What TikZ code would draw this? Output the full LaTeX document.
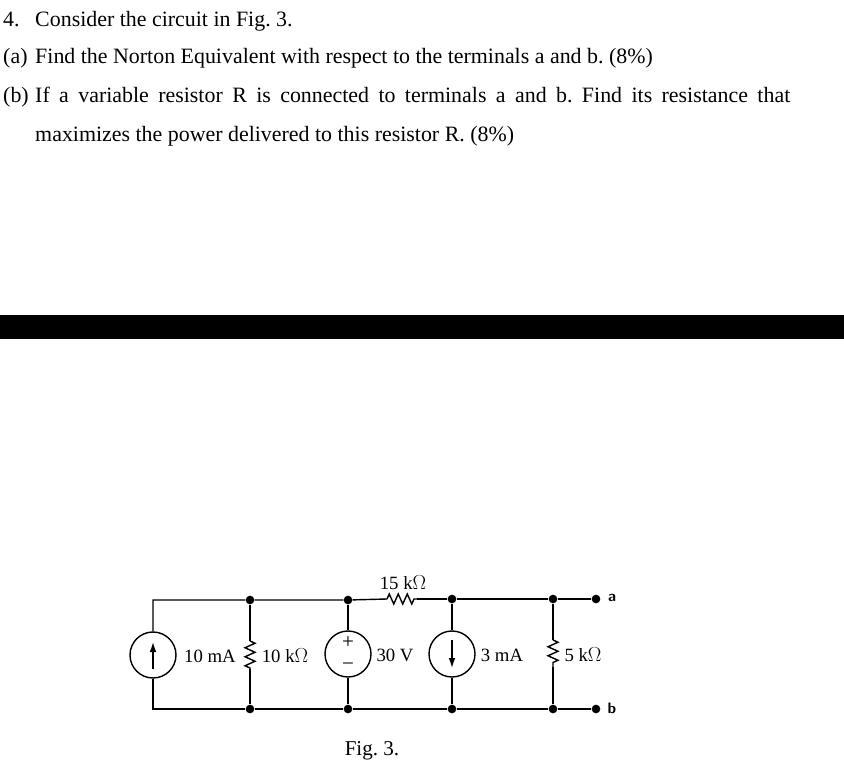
\documentclass[tikz,border=0pt]{standalone}
\usepackage{fontspec}
\setmainfont{Liberation Serif}
\usetikzlibrary{decorations.pathmorphing,arrows.meta}
\frenchspacing
\begin{document}
\begin{tikzpicture}[x=0.03cm,y=-0.03cm]
      \tikzstyle{wire}=[line width=1.2pt]
      \tikzstyle{dot}=[circle,fill=black,inner sep=0pt,minimum size=0.26cm]
      \tikzstyle{source}=[circle,draw,line width=1.2pt,fill=white,inner sep=0pt,minimum size=1.38cm]
      \tikzstyle{question}=[anchor=base west,inner sep=0pt,font=\fontsize{18.7}{22}\selectfont]
      \tikzstyle{value}=[inner sep=0pt,font=\fontsize{16}{19}\selectfont]
      \tikzstyle{terminal}=[inner sep=0pt,font=\sffamily\bfseries\fontsize{13}{15}\selectfont]
      \tikzstyle{resistor}=[wire,decoration={zigzag,segment length=0.27cm,amplitude=0.15cm},decorate]
      \tikzstyle{flow}=[wire,-{Latex[length=0.3cm,width=0.2cm]}]
      \useasboundingbox (0,0) rectangle (844,766);
      % Question text
      \node (q4) at (3,27) [question] {4.};
      \node (q4text) at (35,27) [question] {Consider the circuit in Fig. 3.};
      \node (qa) at (3,64) [question] {(a)};
      \node (qatext) at (35,64) [question] {Find the Norton Equivalent with respect to the terminals a and b. (8\%)};
      \node (qb) at (3,103) [question] {(b)};
      \node (qbline) at (35,103) [question] {\makebox[22.65cm][s]{If a variable resistor R is connected to terminals a and b. Find its resistance that}};
      \node (qbmore) at (35,142) [question] {maximizes the power delivered to this resistor R. (8\%)};
      % Black band
      \fill (0,315) rectangle (844,339);
      % Junctions along the top
      \node (top1) at (250,600) [dot] {};
      \node (top2) at (348,600) [dot] {};
      \node (top3) at (452,599) [dot] {};
      \node (top4) at (553,599) [dot] {};
      \node (a) at (596,599) [dot] {};
      % Junctions along the bottom
      \node (bot1) at (250,709) [dot] {};
      \node (bot2) at (348,709) [dot] {};
      \node (bot3) at (452,709) [dot] {};
      \node (bot4) at (553,709) [dot] {};
      \node (b) at (596,709) [dot] {};
      % Sources
      \node (src1) at (153,655) [source] {};
      \node (src2) at (348,654) [source] {};
      \node (src3) at (452,654) [source] {};
      % Resistor ends
      \coordinate (r10a) at (250,641);
      \coordinate (r10b) at (250,669);
      \coordinate (r15a) at (387,599);
      \coordinate (r15b) at (417,599);
      \coordinate (r5a) at (553,640);
      \coordinate (r5b) at (553,667);
      % Wires
      \draw [wire] (src1) -- (153,600) -- (top1) -- (top2) -- (r15a);
      \draw [wire] (r15b) -- (top3) -- (top4) -- (a);
      \draw [wire] (src1) -- (153,709) -- (bot1) -- (bot2) -- (bot3) -- (bot4) -- (b);
      \draw [wire] (top1) -- (r10a);
      \draw [wire] (r10b) -- (bot1);
      \draw [wire] (top2) -- (src2) -- (bot2);
      \draw [wire] (top3) -- (src3) -- (bot3);
      \draw [wire] (top4) -- (r5a);
      \draw [wire] (r5b) -- (bot4);
      % Resistors
      \draw [resistor] (r10a) -- (r10b);
      \draw [resistor] (r15a) -- (r15b);
      \draw [resistor] (r5a) -- (r5b);
      % Arrows and polarity inside the sources
      \coordinate (arr1a) at (153,669);
      \coordinate (arr1b) at (153,642);
      \coordinate (arr3a) at (452,640);
      \coordinate (arr3b) at (452,668);
      \draw [flow] (arr1a) -- (arr1b);
      \draw [flow] (arr3a) -- (arr3b);
      \node (plus) at (348,643) [value,font=\fontsize{18}{20}\selectfont] {+};
      \node (minus) at (348,667) [value,font=\fontsize{18}{20}\selectfont] {\textminus};
      % Labels
      \node (l10ma) at (210,656) [value] {10 mA};
      \node (l10k) at (285,656) [value] {10 k$\Omega$};
      \node (l15k) at (403,583) [value] {15 k$\Omega$};
      \node (l30v) at (395,655) [value] {30 V};
      \node (l3ma) at (502,655) [value] {3 mA};
      \node (l5k) at (583,655) [value] {5 k$\Omega$};
      \node (la) at (612,598) [terminal] {a};
      \node (lb) at (612,708) [terminal] {b};
      \node (fig) at (372,751) [value,font=\fontsize{18}{21}\selectfont] {Fig. 3.};
    \end{tikzpicture}
\end{document}
